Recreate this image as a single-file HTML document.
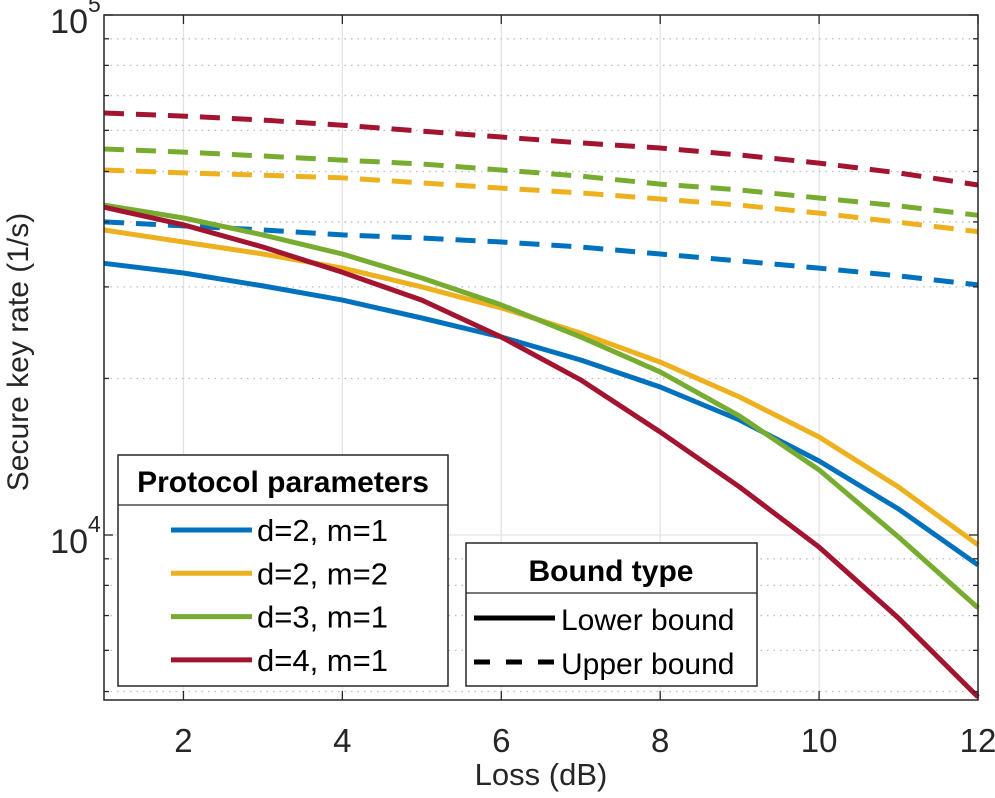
<!DOCTYPE html>
<html><head><meta charset="utf-8"><style>
body{margin:0;background:#fff}
svg{display:block;font-family:"Liberation Sans",Arial,sans-serif}
</style></head><body>
<svg id="chart" width="995" height="798" viewBox="0 0 995 798">
<g id="grid"></g><g id="series"></g><g id="axes"></g><g id="legends"></g>
</svg>
<script>
const losses=[1,2,3,4,5,6,7,8,9,10,11,12];
const lowD2M1=[33300,31900,30130,28300,26140,24030,21700,19260,16640,13880,11220,8756];
const lowD2M2=[38600,36600,34700,32600,30000,27330,24450,21500,18420,15430,12370,9570];
const lowD3M1=[43100,40700,37760,34700,31200,27700,24030,20590,16930,13340,9910,7240];
const lowD4M1=[42700,39500,35800,32000,28300,24030,19870,15780,12370,9480,6920,4880];
const upD2M1=[40000,39300,38600,37760,37250,36600,35800,34700,33650,32600,31500,30270];
const upD2M2=[50350,49700,49200,48600,47550,46460,45480,44280,43100,41590,39950,38300];
const upD3M1=[55250,54500,53550,52600,51700,50350,49000,47300,46100,44470,42950,41200];
const upD4M1=[64800,63900,62800,61400,59800,58250,56750,55500,53800,51900,49700,47100];
const xTicks=[2,4,6,8,10,12];
const yMajor=[10000,100000];
const yMinor=[5000,6000,7000,8000,9000,20000,30000,40000,50000,60000,70000,80000,90000];
const seriesNames=['d=2, m=1','d=2, m=2','d=3, m=1','d=4, m=1'];
const colors=['#0072BD','#EDB120','#77AC30','#A2142F'];

const L=104,R=978,T=15,B=700;
const X=v=>L+(v-1)*(R-L)/11;
const Y=v=>535-(Math.log10(v)-4)*520;
const NS='http://www.w3.org/2000/svg';
function mk(tag,attrs,parent,text){const e=document.createElementNS(NS,tag);for(const k in attrs)e.setAttribute(k,attrs[k]);if(text!==undefined)e.textContent=text;parent.appendChild(e);return e;}
const grid=document.getElementById('grid'),ser=document.getElementById('series'),ax=document.getElementById('axes'),lg=document.getElementById('legends');

xTicks.forEach(t=>{const l=mk('line',{x1:X(t),x2:X(t),y1:T,y2:B,stroke:'#e3e3e3','stroke-width':1.3},grid);

});
yMajor.forEach(v=>{const l=mk('line',{x1:L,x2:R,y1:Y(v),y2:Y(v),stroke:'#e3e3e3','stroke-width':1.3},grid);

});
yMinor.forEach(v=>{const l=mk('line',{x1:L,x2:R,y1:Y(v),y2:Y(v),stroke:'#bcbcbc','stroke-width':1.3,'stroke-dasharray':'1.5 5'},grid);

});

const lows=[lowD2M1,lowD2M2,lowD3M1,lowD4M1],ups=[upD2M1,upD2M2,upD3M1,upD4M1];
function path(arr){return arr.map((v,i)=>(i?'L':'M')+X(losses[i]).toFixed(1)+' '+Y(v).toFixed(1)).join(' ');}
ups.forEach((a,i)=>{const p=mk('path',{d:path(a),fill:'none',stroke:colors[i],'stroke-width':5,'stroke-dasharray':'20 12'},ser);

});
lows.forEach((a,i)=>{const p=mk('path',{d:path(a),fill:'none',stroke:colors[i],'stroke-width':5,'stroke-linejoin':'round'},ser);

});

const box=mk('rect',{x:L,y:T,width:R-L,height:B-T,fill:'none',stroke:'#262626','stroke-width':1.5},ax);


xTicks.forEach(t=>{mk('line',{x1:X(t),x2:X(t),y1:B,y2:B-9,stroke:'#262626','stroke-width':1.3},ax);mk('line',{x1:X(t),x2:X(t),y1:T,y2:T+9,stroke:'#262626','stroke-width':1.3},ax);
const tx=mk('text',{x:X(t),y:B+52,'text-anchor':'middle','font-size':33,fill:'#262626'},ax,String(t));

});
yMajor.concat(yMinor).forEach(v=>{const w=yMajor.includes(v)?9:5;mk('line',{x1:L,x2:L+w,y1:Y(v),y2:Y(v),stroke:'#262626','stroke-width':1.3},ax);mk('line',{x1:R,x2:R-w,y1:Y(v),y2:Y(v),stroke:'#262626','stroke-width':1.3},ax);});
yMajor.forEach(v=>{const tx=mk('text',{x:88,y:Y(v)+18,'text-anchor':'end','font-size':34,fill:'#262626'},ax,'10');


mk('text',{x:88,y:Y(v)-3,'font-size':23,fill:'#262626'},ax,String(Math.round(Math.log10(v))));});
const xt=mk('text',{x:(L+R)/2,y:785,'text-anchor':'middle','font-size':31,fill:'#262626'},ax,'Loss (dB)');


const yt=mk('text',{x:0,y:0,'text-anchor':'middle','font-size':30,fill:'#262626',transform:'translate(28,352) rotate(-90)'},ax,'Secure key rate (1/s)');



const g1=mk('g',{},lg);


mk('rect',{x:118,y:455,width:330,height:231,fill:'#fff',stroke:'#262626','stroke-width':1.5},g1);
mk('line',{x1:118,x2:448,y1:505,y2:505,stroke:'#262626','stroke-width':1.3},g1);
mk('text',{x:283,y:492,'text-anchor':'middle','font-size':30,'font-weight':'bold'},g1,'Protocol parameters');
seriesNames.forEach((n,i)=>{const yy=530+i*43.3;mk('line',{x1:171,x2:252,y1:yy,y2:yy,stroke:colors[i],'stroke-width':5},g1);
const t=mk('text',{x:257,y:yy+11,'font-size':31},g1,n);

});
const g2=mk('g',{},lg);


mk('rect',{x:466,y:543,width:291,height:143,fill:'#fff',stroke:'#262626','stroke-width':1.5},g2);
mk('line',{x1:466,x2:757,y1:593,y2:593,stroke:'#262626','stroke-width':1.3},g2);
mk('text',{x:611,y:581,'text-anchor':'middle','font-size':30,'font-weight':'bold'},g2,'Bound type');
mk('line',{x1:474,x2:555,y1:618,y2:618,stroke:'#000','stroke-width':5},g2);
mk('line',{x1:474,x2:555,y1:662,y2:662,stroke:'#000','stroke-width':5,'stroke-dasharray':'16 16'},g2);
const t1=mk('text',{x:561,y:630,'font-size':30},g2,'Lower bound');


const t2=mk('text',{x:561,y:674,'font-size':30},g2,'Upper bound');


</script>
</body></html>
